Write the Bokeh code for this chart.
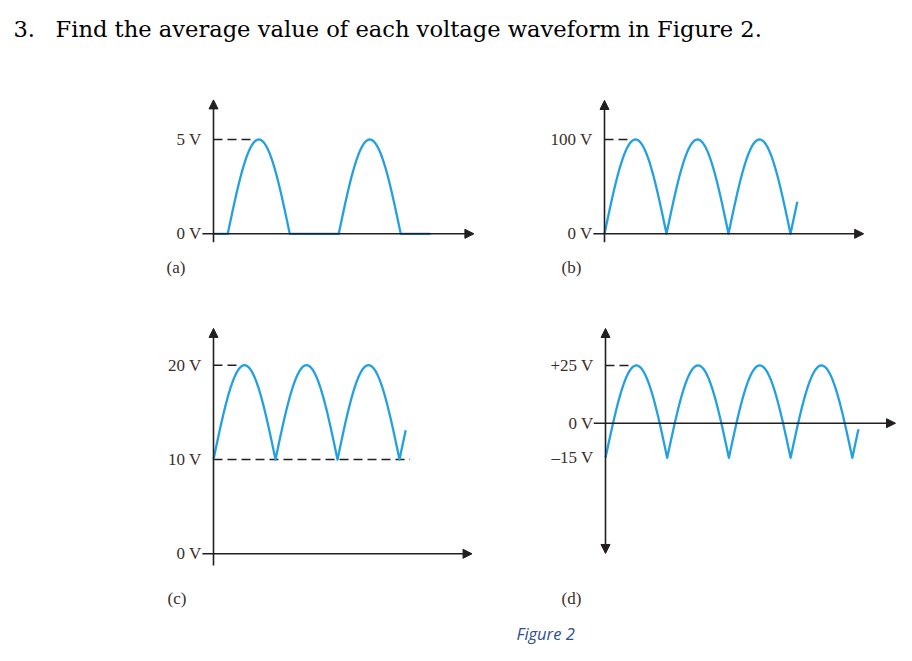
import numpy as np
from bokeh.plotting import figure
from bokeh.models import Range1d, Arrow, NormalHead, ColumnDataSource
from bokeh.core.properties import value
from bokeh.embed import file_html
from bokeh.resources import INLINE

# ---------------- data ----------------
panel_names = ["a", "b", "c", "d"]
panel_letters = ["(a)", "(b)", "(c)", "(d)"]

# waveform definitions (time in half-periods, voltage in volts)
a_hump_starts = [0.23, 2.02]
a_base, a_peak, a_end = 0, 5, 3.5
b_hump_starts = [0, 1, 2, 3]
b_base, b_peak, b_end = 0, 100, 3.11
c_hump_starts = [0, 1, 2, 3]
c_base, c_peak, c_end = 10, 20, 3.1
d_hump_starts = [0, 1, 2, 3, 4]
d_base, d_peak, d_end = -15, 25, 4.1

# tick labels per panel
a_tick_vals = [5, 0]
a_tick_text = ["5 V", "0 V"]
b_tick_vals = [100, 0]
b_tick_text = ["100 V", "0 V"]
c_tick_vals = [20, 10, 0]
c_tick_text = ["20 V", "10 V", "0 V"]
d_tick_vals = [25, 0, -15]
d_tick_text = ["+25 V", "0 V", "\u201315 V"]

# dashed reference levels: (level, end time)
a_dash_levels = [5]
a_dash_ends = [0.63]
b_dash_levels = [100]
b_dash_ends = [0.37]
c_dash_levels = [20, 10]
c_dash_ends = [0.38, 3.17]
d_dash_levels = [25]
d_dash_ends = [0.4]

title_number = "3."
title_text = "Find the average value of each voltage waveform in Figure 2."
caption_text = "Figure 2"

# ---------------- layout (page pixels) ----------------
W, H = 896, 645
OFF = 0  # page offset of the canvas as rendered
LAYOUT = {
    # origin x px, 0-V y px, px per volt, px per half period
    "a": dict(x0=213, y0=233.3, k=18.86, tpx=62.0,
              xax=(-0.18, 4.2), yax=(-0.45, 7.1), down_arrow=False, label=(166, 267)),
    "b": dict(x0=604, y0=233.3, k=0.943, tpx=62.0,
              xax=(-0.18, 4.18), yax=(-8.9, 141.4), down_arrow=False, label=(561, 267)),
    "c": dict(x0=213, y0=553.3, k=9.43, tpx=62.0,
              xax=(-0.18, 4.17), yax=(-1.24, 23.9), down_arrow=False, label=(167, 598)),
    "d": dict(x0=605, y0=422.7, k=2.31, tpx=61.7,
              xax=(-0.19, 4.7), yax=(-56.4, 41.0), down_arrow=True, label=(561, 598)),
}

DATA = {
    "a": (a_hump_starts, a_base, a_peak, a_end, a_tick_vals, a_tick_text, a_dash_levels, a_dash_ends),
    "b": (b_hump_starts, b_base, b_peak, b_end, b_tick_vals, b_tick_text, b_dash_levels, b_dash_ends),
    "c": (c_hump_starts, c_base, c_peak, c_end, c_tick_vals, c_tick_text, c_dash_levels, c_dash_ends),
    "d": (d_hump_starts, d_base, d_peak, d_end, d_tick_vals, d_tick_text, d_dash_levels, d_dash_ends),
}

WAVE = "#22a0e2"
INK = "#231f20"
LABEL = "#3a2e28"
SERIF = value("Liberation Serif")


def waveform(starts, base, peak, t_end):
    brk = [0.0, t_end]
    for s in starts:
        brk += [s, s + 1.0]
    t = np.unique(np.concatenate([np.linspace(0, t_end, 600),
                                  [b for b in brk if 0 <= b <= t_end]]))
    v = np.full_like(t, float(base))
    for s in starts:
        m = (t >= s) & (t <= s + 1.0)
        v[m] = base + (peak - base) * np.sin(np.pi * (t[m] - s))
    return t, v


p = figure(width=W, height=H, x_range=Range1d(OFF, OFF + W), y_range=Range1d(OFF + H, OFF),
           x_axis_type=None, y_axis_type=None, min_border=0,
           outline_line_color=None, toolbar_location=None, output_backend="svg")
p.grid.visible = False

for name, letter in zip(panel_names, panel_letters):
    L = LAYOUT[name]
    starts, base, peak, t_end, tv, tt, dl, de = DATA[name]
    x0, y0, k, tpx = L["x0"], L["y0"], L["k"], L["tpx"]
    p.extra_x_ranges[name] = Range1d((OFF - x0) / tpx, (OFF + W - x0) / tpx)
    p.extra_y_ranges[name] = Range1d((y0 - (OFF + H)) / k, (y0 - OFF) / k)
    rn = dict(x_range_name=name, y_range_name=name)

    # dashed levels
    for lvl, te in zip(dl, de):
        p.line([0, te], [lvl, lvl], line_color=INK, line_width=1.6,
               line_dash="9 5", **rn)

    # axes
    hx = NormalHead(size=9, fill_color=INK, line_color=INK)
    p.add_layout(Arrow(end=hx, x_start=L["xax"][0], y_start=0, x_end=L["xax"][1], y_end=0,
                       line_color=INK, line_width=1.6, **rn))
    hy = NormalHead(size=9, fill_color=INK, line_color=INK)
    hs = NormalHead(size=9, fill_color=INK, line_color=INK) if L["down_arrow"] else None
    p.add_layout(Arrow(end=hy, start=hs, x_start=0, y_start=L["yax"][0], x_end=0, y_end=L["yax"][1],
                       line_color=INK, line_width=1.6, **rn))

    # waveform
    t, v = waveform(starts, base, peak, t_end)
    p.line(t, v, line_color=WAVE, line_width=2.3, line_join="round", **rn)

    # tick labels
    src = ColumnDataSource(dict(x=[0] * len(tv), y=tv, text=tt))
    p.text(x="x", y="y", text="text", source=src, x_offset=-12, text_align="right",
           text_baseline="middle", text_font=SERIF, text_font_size="17px",
           text_color=LABEL, **rn)

    # panel letter
    lx, ly = L["label"]
    p.text(x=[lx], y=[ly], text=[letter], text_align="left", text_baseline="middle",
           text_font=SERIF, text_font_size="17px", text_color=LABEL)

# title
p.text(x=[13], y=[28], text=[title_number], text_align="left", text_baseline="middle",
       text_font=value("DejaVu Serif"), text_font_size="22.6px", text_color="black")
p.text(x=[55], y=[28], text=[title_text], text_align="left", text_baseline="middle",
       text_font=value("DejaVu Serif"), text_font_size="22.6px", text_color="black")

# caption
p.text(x=[516], y=[633], text=[caption_text], text_align="left", text_baseline="middle",
       text_font=value("Open Sans"), text_font_style="italic", text_font_size="16.5px",
       text_color="#2f4f8f")

open("out.html", "w").write(file_html(p, INLINE))
